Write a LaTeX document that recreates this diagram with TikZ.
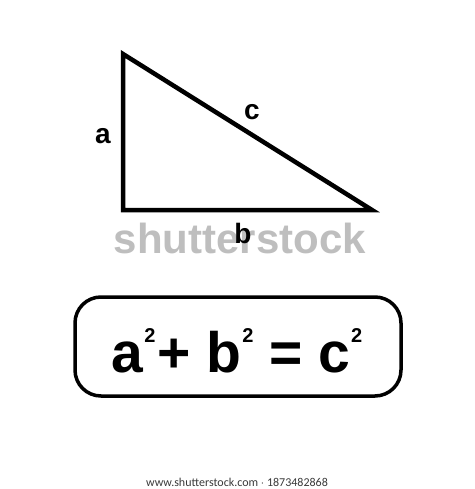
\documentclass[tikz,border=0pt]{standalone}
\usepackage{fontspec}
\setmainfont{Liberation Sans}
\newfontfamily\urlfont{Carlito}
\definecolor{markgray}{HTML}{BEBEBE}
\definecolor{urlgray}{HTML}{3A3A3A}
\tikzset{
  side/.style={line width=4.5pt, line join=miter},
  sidelabel/.style={font=\fontsize{28}{28}\selectfont\bfseries, inner sep=0pt, anchor=base},
}
\newcommand{\sqtwo}{\kern1pt\raisebox{30pt}{\fontsize{20}{20}\selectfont 2}}

\begin{document}
\begin{tikzpicture}[x=1pt,y=-1pt]
  \path[use as bounding box, fill=white] (0,0) rectangle (474,489);
  \coordinate (top) at (123,54);
  \coordinate (corner) at (123,210);
  \coordinate (tip) at (372,210);
  \node[anchor=base, inner sep=0pt, text=markgray, font=\fontsize{42}{42}\selectfont\bfseries] (mark) at (240,253) {shutterstock};
  \draw[side] (top) -- (corner) -- (tip) -- cycle;
  \node[sidelabel] (a) at (103,143) {a};
  \node[sidelabel] (c) at (252,120) {c};
  \node[sidelabel] (b) at (243,243) {b};
  \draw[line width=3.5pt, rounded corners=26pt] (75,297) rectangle (401,396);
  \node[anchor=base, inner sep=0pt, font=\fontsize{57}{57}\selectfont\bfseries] (law) at (237,372) {a\sqtwo\kern2pt+ b\sqtwo\ = c\sqtwo};
  \node[anchor=base, inner sep=0pt, text=urlgray, font=\urlfont\fontsize{12}{12}\selectfont] (url) at (237,486) {www.shutterstock.com $\cdot$ 1873482868};
\end{tikzpicture}
\end{document}
